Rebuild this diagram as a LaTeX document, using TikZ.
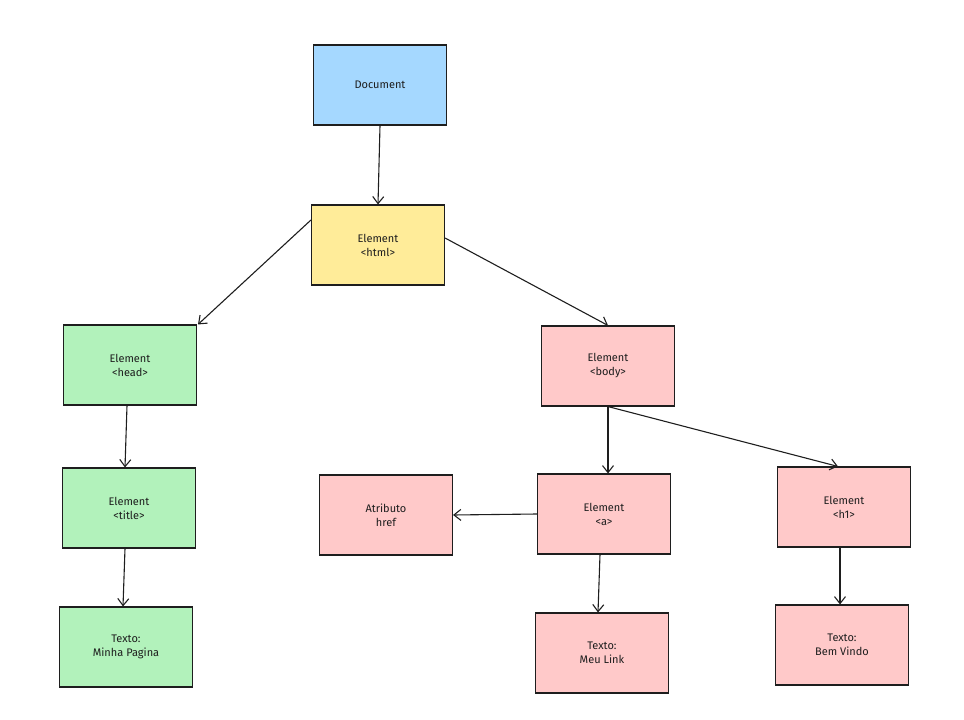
\documentclass[tikz,border=0pt]{standalone}
\usepackage{fontspec}
\setmainfont{Fira Sans}
\usetikzlibrary{arrows.meta}
\definecolor{cblue}{HTML}{A5D8FF}
\definecolor{cyel}{HTML}{FFEC99}
\definecolor{cgreen}{HTML}{B2F2BB}
\definecolor{cpink}{HTML}{FFC9C9}
\definecolor{ink}{HTML}{1E1E1E}
\begin{document}
\begin{tikzpicture}[x=1pt,y=-1pt,
  box/.style={draw=ink,line width=1.1pt,minimum width=133pt,minimum height=80pt,align=center,font=\fontsize{11}{14}\selectfont,text=ink},
  arr/.style={draw=ink,line width=1.1pt,-{Straight Barb[length=7pt,width=11pt]}}]
\useasboundingbox (0,0) rectangle (964,720);
\node[box,fill=cblue] (doc) at (380,85) {Document};
\node[box,fill=cyel] (html) at (378,245) {Element\\<html>};
\node[box,fill=cgreen] (head) at (130,365) {Element\\<head>};
\node[box,fill=cpink] (body) at (608,366) {Element\\<body>};
\node[box,fill=cgreen] (title) at (129,508) {Element\\<title>};
\node[box,fill=cgreen] (minha) at (126,647) {Texto:\\Minha Pagina};
\node[box,fill=cpink] (href) at (386,515) {Atributo\\href};
\node[box,fill=cpink] (a) at (604,514) {Element\\<a>};
\node[box,fill=cpink] (h1) at (844,507) {Element\\<h1>};
\node[box,fill=cpink] (meu) at (602,653) {Texto:\\Meu Link};
\node[box,fill=cpink] (bem) at (842,645) {Texto:\\Bem Vindo};
\draw[arr] (doc.south) -- (html.north);
\draw[arr] ([yshift=25pt]html.west) -- ([xshift=68pt]head.north);
\draw[arr] ([yshift=7pt]html.east) -- (body.north);
\draw[arr] ([xshift=-3pt]head.south) -- ([xshift=-4pt]title.north);
\draw[arr] ([xshift=-4pt]title.south) -- ([xshift=-3pt]minha.north);
\draw[arr] (body.south) -- ([xshift=4pt]a.north);
\draw[arr] (body.south) -- ([xshift=-6pt]h1.north);
\draw[arr] (a.west) -- (href.east);
\draw[arr] ([xshift=-4pt]a.south) -- ([xshift=-4pt]meu.north);
\draw[arr] ([xshift=-4pt]h1.south) -- ([xshift=-2pt]bem.north);
\end{tikzpicture}
\end{document}
